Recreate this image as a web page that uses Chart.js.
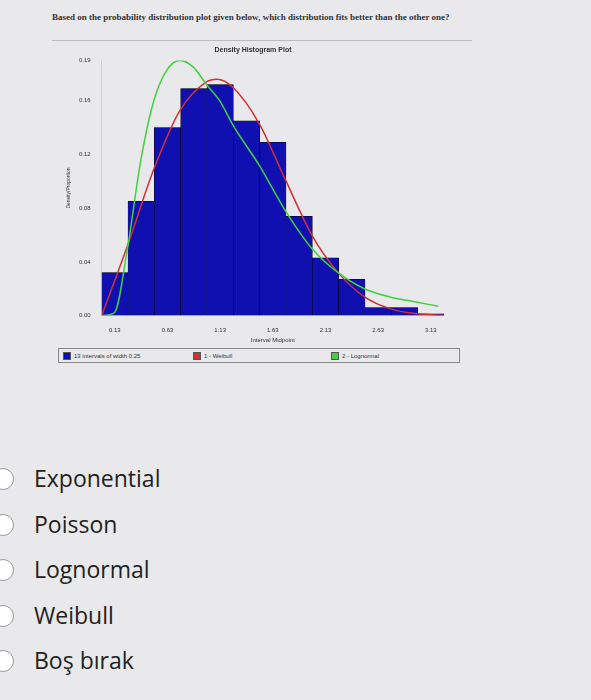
<!DOCTYPE html>
<html>
<head>
<meta charset="utf-8">
<script src="https://cdn.jsdelivr.net/npm/chart.js@4"></script>
<style>
  * { margin: 0; padding: 0; box-sizing: border-box; }
  body { width: 591px; height: 700px; background: #e9e9eb; font-family: "Liberation Serif", serif; position: relative; overflow: hidden; }
  .q { position: absolute; left: 52px; top: 12px; width: 425px; font-size: 9px; font-weight: bold; color: #333; line-height: 11px; }
  .rule { position: absolute; left: 52px; top: 40px; width: 420px; border-top: 1px solid #bbb; }
  .chart { position: absolute; left: 52px; top: 44px; width: 420px; height: 300px; }
  .legend { position: absolute; left: 58px; top: 348px; width: 402px; height: 15px; border: 1px solid #888; font: 6px Arial, sans-serif; color: #333; }
  .legend span { position: absolute; top: 3px; }
  .legend i { display: inline-block; width: 8px; height: 8px; border: 1px solid #555; vertical-align: middle; margin-right: 3px; }
  .opts { position: absolute; left: 0; top: 462px; font: 23px "Open Sans", Arial, sans-serif; color: #222; }
  .opts div { height: 45.5px; padding-left: 34px; position: relative; }
  .opts div:before { content: ""; position: absolute; left: -8px; top: 6px; width: 20px; height: 20px; border: 1px solid #999; border-radius: 50%; background: #fff; }
</style>
</head>
<body>
<div class="q">Based on the probability distribution plot given below, which distribution fits better than the other one?</div>
<div class="rule"></div>
<div class="chart"><canvas id="chart"></canvas></div>
<div class="legend">
  <span style="left:4px"><i style="background:#1010b0"></i>13 intervals of width 0.25</span>
  <span style="left:134px"><i style="background:#d03030"></i>1 - Weibull</span>
  <span style="left:272px"><i style="background:#40d040"></i>2 - Lognormal</span>
</div>
<div class="opts">
  <div>Exponential</div>
  <div>Poisson</div>
  <div>Lognormal</div>
  <div>Weibull</div>
  <div>Boş bırak</div>
</div>
<script>
const midpoints = [0.13, 0.38, 0.63, 0.88, 1.13, 1.38, 1.63, 1.88, 2.13, 2.38, 2.63, 2.88, 3.13];
const density = [0.032, 0.085, 0.140, 0.169, 0.172, 0.145, 0.129, 0.074, 0.043, 0.027, 0.006, 0.006, 0.0013];
const tickLabels = [0.13, 0.63, 1.13, 1.63, 2.13, 2.63, 3.13];
const yTicks = [0, 0.04, 0.08, 0.12, 0.16, 0.19];
const weibullX = [0.005, 0.25, 0.5, 0.75, 1.0, 1.1, 1.25, 1.5, 1.75, 2.0, 2.25, 2.5, 2.75, 3.0, 3.25];
const weibullY = [0, 0.052, 0.109, 0.153, 0.174, 0.176, 0.170, 0.143, 0.101, 0.060, 0.032, 0.014, 0.005, 0.0013, 0.0003];
const lognormX = [0.005, 0.125, 0.25, 0.375, 0.5, 0.625, 0.75, 0.875, 1.0, 1.125, 1.25, 1.5, 1.75, 2.0, 2.25, 2.5, 2.75, 3.0, 3.2];
const lognormY = [0, 0.002, 0.05, 0.115, 0.160, 0.183, 0.190, 0.185, 0.172, 0.160, 0.142, 0.112, 0.078, 0.050, 0.032, 0.020, 0.0137, 0.010, 0.007];

const pts = (xs, ys) => xs.map((x, i) => ({ x, y: ys[i] }));
const tiny = { size: 6, family: 'Arial' };

new Chart(document.getElementById('chart'), {
  data: {
    datasets: [
      { type: 'line', data: pts(weibullX, weibullY), borderColor: '#d03030', borderWidth: 1.5, pointRadius: 0, cubicInterpolationMode: 'monotone', order: 1 },
      { type: 'line', data: pts(lognormX, lognormY), borderColor: '#40d040', borderWidth: 1.5, pointRadius: 0, cubicInterpolationMode: 'monotone', order: 0 },
      { type: 'bar', data: pts(midpoints, density), backgroundColor: '#1010b0', borderColor: '#000', borderWidth: 0.5, barPercentage: 1, categoryPercentage: 1, order: 2 }
    ]
  },
  options: {
    responsive: true, maintainAspectRatio: false, animation: false,
    layout: { padding: { top: 0, right: 28, left: 10 } },
    plugins: {
      legend: { display: false },
      tooltip: { enabled: false },
      title: { display: true, text: 'Density Histogram Plot', font: { size: 7, family: 'Arial', weight: 'bold' }, color: '#333', padding: { top: 2, bottom: 6 } }
    },
    scales: {
      x: {
        type: 'linear', min: 0.005, max: 3.255, offset: false,
        afterBuildTicks: a => { a.ticks = tickLabels.map(v => ({ value: v })); },
        ticks: { font: tiny, color: '#333', callback: v => v.toFixed(2), maxRotation: 0 },
        grid: { display: false },
        title: { display: true, text: 'Interval Midpoint', font: tiny, color: '#333', padding: 0 }
      },
      y: {
        min: 0, max: 0.19,
        afterBuildTicks: a => { a.ticks = yTicks.map(v => ({ value: v })); },
        ticks: { font: tiny, color: '#333', callback: v => v.toFixed(2) },
        grid: { display: false },
        title: { display: true, text: 'Density/Proportion', font: { size: 5, family: 'Arial' }, color: '#333' }
      }
    }
  }
});
</script>
</body>
</html>
